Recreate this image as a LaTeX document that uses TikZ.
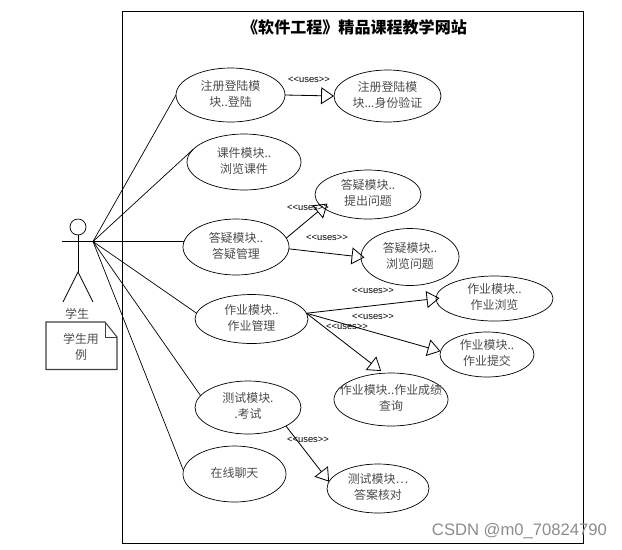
\documentclass[tikz,border=0pt]{standalone}
\usepackage{fontspec}
\setmainfont{Liberation Sans}
\newfontfamily\cjk{Noto Sans CJK SC}
\usetikzlibrary{arrows.meta,shapes.geometric}
\newcommand{\casetext}[1]{\makebox[0pt]{\smash{\raisebox{-.25em}{\begin{tabular}{@{}c@{}}#1\end{tabular}}}}}
\tikzset{
    usecase/.style 2 args={ellipse, draw, inner sep=0, outer sep=0, text=black!70,
        font=\cjk\fontsize{10.2}{13.6}\selectfont,
        minimum width=#1*0.03cm, minimum height=#2*0.03cm},
    usesline/.style={line width=0.7pt, -{Triangle[open,length=11pt,width=14.5pt]}},
    useslabel/.style={font=\fontsize{8}{9}\selectfont, inner sep=0},
    cjklabel/.style={text=black!70, inner sep=0, align=center, font=\cjk\fontsize{10.2}{13.6}\selectfont}
}
\begin{document}
\begin{tikzpicture}[x=0.03cm, y=-0.03cm, line width=0.6pt]
    \useasboundingbox (0,0) rectangle (622,549) ;
    \draw [line width=0.8pt] (122.7,11.5) rectangle (583,543) ;
    \node (title) [inner sep=0, font=\cjk\bfseries\fontsize{13.7}{15}\selectfont] at (354.5,27) {《软件工程》精品课程教学网站} ;

    % actor
    \node (head) [circle, draw, inner sep=0, minimum size=16*0.03cm] at (78,227) {} ;
    \coordinate (hip) at (78,272) ;
    \coordinate (hand) at (93,241.5) ;
    \coordinate (otherhand) at (62,241.5) ;
    \coordinate (leftfoot) at (63,302) ;
    \coordinate (rightfoot) at (93,302) ;
    \draw (head) -- (hip) ;
    \draw (otherhand) -- (hand) ;
    \draw (leftfoot) -- (hip) -- (rightfoot) ;
    \node (student) [cjklabel] at (77,314) {学生} ;

    % note
    \draw [line width=0.9pt, black!75] (46,322) -- (105,322) -- (117,337) -- (117,369.5) -- (46,369.5) -- cycle ;
    \draw [black!75] (105,322) -- (105,337) -- (117,337) ;
    \node (notetext) [cjklabel] at (81,347) {学生用\\例} ;

    % left column
    \node (login) [usecase={109}{54}] at (230.5,95) {\casetext{注册登陆模\\块..登陆}} ;
    \node (course) [usecase={114}{56}] at (244,162) {\casetext{课件模块..\\浏览课件}} ;
    \node (answer) [usecase={106}{56}] at (236,247) {\casetext{答疑模块..\\答疑管理}} ;
    \node (homework) [usecase={113}{49}] at (251.5,319) {\casetext{作业模块..\\作业管理}} ;
    \node (exam) [usecase={106}{53}] at (248,407.5) {\casetext{测试模块.\\.考试}} ;
    \node (chat) [usecase={103}{56}] at (234.5,474) {\casetext{在线聊天}} ;

    % right column
    \node (verify) [usecase={107}{52}] at (387.5,96) {\casetext{注册登陆模\\块...身份验证}} ;
    \node (ask) [usecase={106}{49}] at (368,194.5) {\casetext{答疑模块..\\提出问题}} ;
    \node (browseq) [usecase={98}{57}] at (410,257) {\casetext{答疑模块..\\浏览问题}} ;
    \node (browsehw) [usecase={117}{45}] at (494.5,298.5) {\casetext{作业模块..\\作业浏览}} ;
    \node (submit) [usecase={94}{45}] at (487,354.5) {\casetext{作业模块..\\作业提交}} ;
    \node (grade) [usecase={114}{53}] at (391,399.5) {\casetext{作业模块..作业成绩\\查询}} ;
    \node (check) [usecase={102}{49}] at (378,488.5) {\casetext{测试模块…\\答案核对}} ;

    \draw (hand) -- (login.180) ;
    \draw (hand) -- (course.166) ;
    \draw (hand) -- (answer.174) ;
    \draw (hand) -- (homework.174) ;
    \draw (hand) -- (exam.166) ;
    \draw (hand) -- (chat.176) ;

    \draw [usesline] (login.0) -- (verify.180) ;
    \draw [usesline, shorten >=-5pt] (answer.10) -- (ask.196) ;
    \draw [usesline, shorten >=-3pt] (answer.-2) -- (browseq.180) ;
    \draw [usesline, shorten >=-3pt] (homework.6) -- (browsehw.180) ;
    \draw [usesline] (homework.6) -- (submit.176) ;
    \draw [usesline, shorten >=3pt] (homework.6) -- (grade.105) ;
    \draw [usesline] (exam.-26) -- (check.172) ;

    \foreach \x/\y [count=\i] in {309/80, 308/208, 327/238, 373/291, 373/317, 347/327, 308/440}
        \node (uses\i) [useslabel] at (\x,\y) {<{}<uses>{}>} ;

    \node (mark) [text=black!45, inner sep=0, font=\fontsize{14.2}{16}\selectfont] at (519.5,531) {CSDN @m0\_70824790} ;
\end{tikzpicture}
\end{document}
